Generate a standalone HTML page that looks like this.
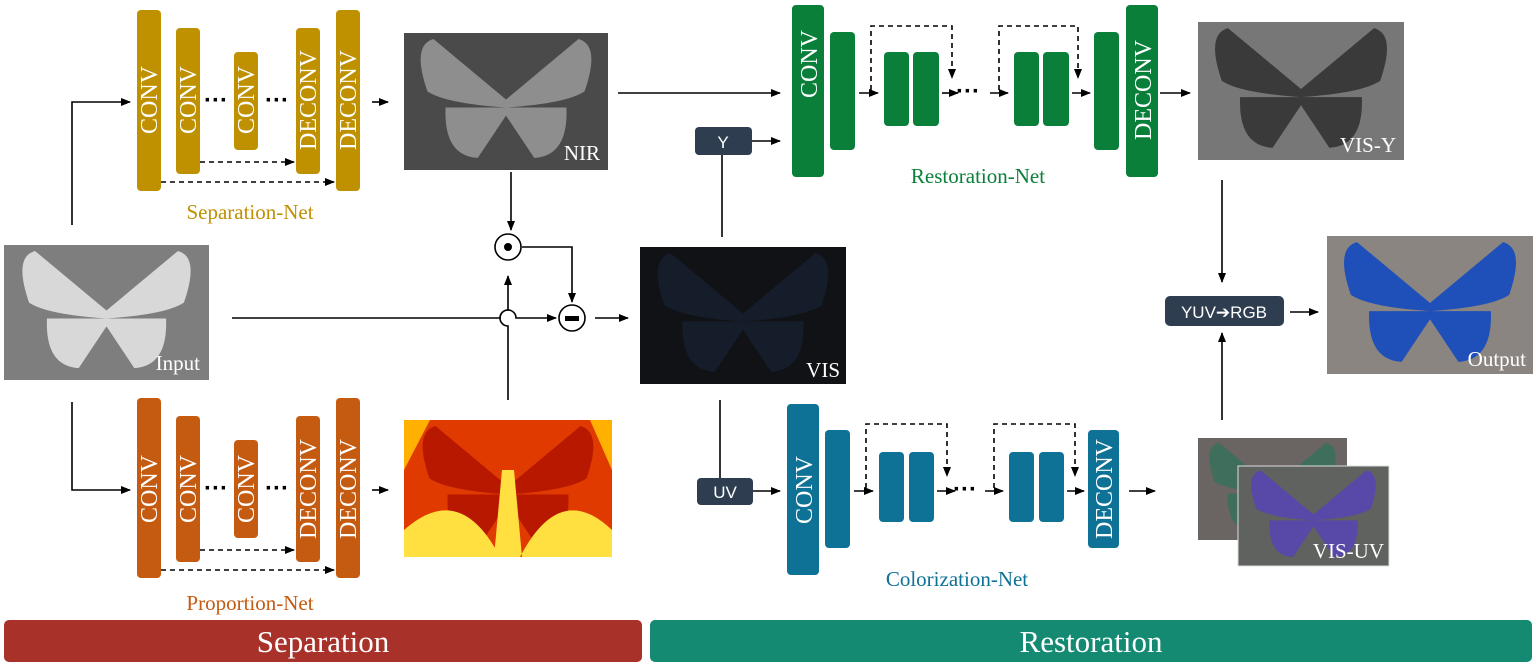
<!DOCTYPE html>
<html><head><meta charset="utf-8"><style>
html,body{margin:0;padding:0;background:#fff;}
svg{display:block}
.t{font-family:"Liberation Serif",serif;fill:#fff;font-size:24px}
.lbl{font-family:"Liberation Serif",serif;font-size:21px}
.sans{font-family:"Liberation Sans",sans-serif;fill:#fff;font-size:17px}
</style></head><body>
<svg width="1536" height="666" viewBox="0 0 1536 666" xmlns="http://www.w3.org/2000/svg">
<defs>
<marker id="a" markerWidth="10" markerHeight="8" refX="9" refY="4" orient="auto" markerUnits="userSpaceOnUse"><path d="M0,0 L10,4 L0,8 Z" fill="#000"/></marker>
<symbol id="bf" viewBox="0 0 200 136">
<path d="M100,66 L28,6 Q6,12 22,58 Q40,70 100,74 Z M100,66 L172,6 Q194,12 178,58 Q160,70 100,74 Z M100,74 L40,74 Q38,122 72,124 L100,82 Z M100,74 L160,74 Q162,122 128,124 L100,82 Z"/>
</symbol>
</defs>

<!-- Separation-Net -->
<g fill="#BF9000">
<rect x="137" y="10" width="24" height="181" rx="4"/>
<rect x="176" y="28" width="24" height="146" rx="4"/>
<rect x="234" y="52" width="24" height="98" rx="4"/>
<rect x="296" y="28" width="24" height="146" rx="4"/>
<rect x="336" y="10" width="24" height="181" rx="4"/>
</g>
<g class="t">
<text transform="translate(157,100) rotate(-90)" text-anchor="middle">CONV</text>
<text transform="translate(196,100) rotate(-90)" text-anchor="middle">CONV</text>
<text transform="translate(254,100) rotate(-90)" text-anchor="middle">CONV</text>
<text transform="translate(316,100) rotate(-90)" text-anchor="middle">DECONV</text>
<text transform="translate(356,100) rotate(-90)" text-anchor="middle">DECONV</text>
</g>
<text x="216" y="108" font-size="24" font-weight="bold" text-anchor="middle" font-family="Liberation Sans">···</text>
<text x="277" y="108" font-size="24" font-weight="bold" text-anchor="middle" font-family="Liberation Sans">···</text>
<text x="250" y="219" class="lbl" fill="#BF9000" text-anchor="middle">Separation-Net</text>

<!-- Proportion-Net -->
<g fill="#C55A11">
<rect x="137" y="398" width="24" height="180" rx="4"/>
<rect x="176" y="416" width="24" height="146" rx="4"/>
<rect x="234" y="440" width="24" height="98" rx="4"/>
<rect x="296" y="416" width="24" height="146" rx="4"/>
<rect x="336" y="398" width="24" height="180" rx="4"/>
</g>
<g class="t">
<text transform="translate(157,489) rotate(-90)" text-anchor="middle">CONV</text>
<text transform="translate(196,489) rotate(-90)" text-anchor="middle">CONV</text>
<text transform="translate(254,489) rotate(-90)" text-anchor="middle">CONV</text>
<text transform="translate(316,489) rotate(-90)" text-anchor="middle">DECONV</text>
<text transform="translate(356,489) rotate(-90)" text-anchor="middle">DECONV</text>
</g>
<text x="216" y="496" font-size="24" font-weight="bold" text-anchor="middle" font-family="Liberation Sans">···</text>
<text x="277" y="496" font-size="24" font-weight="bold" text-anchor="middle" font-family="Liberation Sans">···</text>
<text x="250" y="610" class="lbl" fill="#C55A11" text-anchor="middle">Proportion-Net</text>

<g stroke="#000" stroke-width="1.6" fill="none">
<path d="M72,225 V102 H130" marker-end="url(#a)"/>
<path d="M72,402 V490 H130" marker-end="url(#a)"/>
<path d="M372,102 H388" marker-end="url(#a)"/>
<path d="M372,490 H388" marker-end="url(#a)"/>
<g stroke-dasharray="5,4">
<path d="M200,162 H294" marker-end="url(#a)"/>
<path d="M161,182 H334" marker-end="url(#a)"/>
<path d="M200,550 H294" marker-end="url(#a)"/>
<path d="M161,570 H334" marker-end="url(#a)"/>
</g>
<path d="M511,172 V230" marker-end="url(#a)"/>
<path d="M232,318 H500 A8,8 0 0 1 516,318 H556" marker-end="url(#a)"/>
<path d="M508,400 V326 A8,8 0 0 1 508,310 V276" marker-end="url(#a)"/>
<path d="M522,247 H572 V302" marker-end="url(#a)"/>
<path d="M595,318 H628" marker-end="url(#a)"/>
<circle cx="508" cy="247" r="13"/>
<circle cx="572" cy="318" r="13"/>
<path d="M618,93 H780" marker-end="url(#a)"/>
<path d="M722,155 V237"/>
<path d="M752,141 H780" marker-end="url(#a)"/>
<path d="M720,400 V478"/>
<path d="M753,491 H780" marker-end="url(#a)"/>
</g>
<circle cx="508" cy="247" r="4" fill="#000"/>
<rect x="565" y="316" width="14" height="5" fill="#000"/>

<!-- images -->
<rect x="4" y="245" width="205" height="135" fill="#7e7e7e"/>
<svg x="4" y="245" width="205" height="135"><use href="#bf" fill="#d8d8d8"/></svg>
<text x="200" y="370" class="lbl" fill="#fff" text-anchor="end">Input</text>

<rect x="404" y="33" width="204" height="137" fill="#4a4a4a"/>
<svg x="404" y="33" width="204" height="137"><use href="#bf" fill="#8e8e8e"/></svg>
<text x="600" y="160" class="lbl" fill="#fff" text-anchor="end">NIR</text>

<rect x="404" y="420" width="208" height="137" fill="#e03a00"/>
<svg x="404" y="420" width="208" height="137"><use href="#bf" fill="#b81800"/></svg>
<path d="M404,420 L430,420 L404,470 Z M612,420 L590,420 L612,470Z" fill="#ffb000"/>
<path d="M404,530 Q460,480 500,557 L404,557 Z M612,530 Q560,480 520,557 L612,557 Z M502,470 L514,470 L522,557 L494,557Z" fill="#ffe040"/>

<rect x="640" y="247" width="206" height="137" fill="#101216"/>
<svg x="640" y="247" width="206" height="137"><use href="#bf" fill="#151c2a"/></svg>
<text x="840" y="377" class="lbl" fill="#fff" text-anchor="end">VIS</text>

<rect x="1198" y="22" width="206" height="138" fill="#777"/>
<svg x="1198" y="22" width="206" height="138"><use href="#bf" fill="#3a3a3a"/></svg>
<text x="1396" y="152" class="lbl" fill="#fff" text-anchor="end">VIS-Y</text>

<rect x="1327" y="236" width="206" height="138" fill="#8a8580"/>
<svg x="1327" y="236" width="206" height="138"><use href="#bf" fill="#1f4fb8"/></svg>
<text x="1526" y="366" class="lbl" fill="#fff" text-anchor="end">Output</text>

<rect x="1198" y="438" width="149" height="102" fill="#6a6462"/>
<svg x="1198" y="438" width="149" height="102"><use href="#bf" fill="#3f6e5c"/></svg>
<rect x="1238" y="466" width="151" height="100" fill="#5f625e" stroke="#ddd" stroke-width="1"/>
<svg x="1238" y="466" width="151" height="100"><use href="#bf" fill="#5848a8"/></svg>
<text x="1384" y="558" class="lbl" fill="#fff" text-anchor="end">VIS-UV</text>

<!-- Y / UV boxes -->
<rect x="695" y="127" width="57" height="28" rx="4" fill="#2E3E50"/>
<text x="723" y="148" class="sans" text-anchor="middle">Y</text>
<rect x="697" y="478" width="56" height="27" rx="4" fill="#2E3E50"/>
<text x="725" y="498" class="sans" text-anchor="middle">UV</text>

<!-- Restoration-Net -->
<g fill="#0A7F3A">
<rect x="792" y="5" width="32" height="172" rx="4"/>
<rect x="830" y="32" width="25" height="118" rx="4"/>
<rect x="884" y="52" width="25" height="74" rx="4"/>
<rect x="913" y="52" width="26" height="74" rx="4"/>
<rect x="1014" y="52" width="25" height="74" rx="4"/>
<rect x="1043" y="52" width="26" height="74" rx="4"/>
<rect x="1094" y="32" width="25" height="118" rx="4"/>
<rect x="1126" y="5" width="32" height="172" rx="4"/>
</g>
<text transform="translate(817,64) rotate(-90)" class="t" text-anchor="middle">CONV</text>
<text transform="translate(1151,90) rotate(-90)" class="t" text-anchor="middle">DECONV</text>
<text x="978" y="183" class="lbl" fill="#0A7F3A" text-anchor="middle">Restoration-Net</text>
<text x="968" y="99" font-size="24" font-weight="bold" text-anchor="middle" font-family="Liberation Sans">···</text>

<!-- Colorization-Net -->
<g fill="#0E7196">
<rect x="787" y="404" width="32" height="171" rx="4"/>
<rect x="825" y="430" width="25" height="118" rx="4"/>
<rect x="879" y="452" width="25" height="70" rx="4"/>
<rect x="909" y="452" width="25" height="70" rx="4"/>
<rect x="1009" y="452" width="25" height="70" rx="4"/>
<rect x="1039" y="452" width="25" height="70" rx="4"/>
<rect x="1088" y="430" width="31" height="118" rx="4"/>
</g>
<text transform="translate(812,490) rotate(-90)" class="t" text-anchor="middle">CONV</text>
<text transform="translate(1112,489) rotate(-90)" class="t" text-anchor="middle">DECONV</text>
<text x="957" y="586" class="lbl" fill="#0E7196" text-anchor="middle">Colorization-Net</text>
<text x="965" y="497" font-size="24" font-weight="bold" text-anchor="middle" font-family="Liberation Sans">···</text>

<g stroke="#000" stroke-width="1.6" fill="none">
<path d="M859,93 H878" marker-end="url(#a)"/>
<path d="M942,93 H958" marker-end="url(#a)"/>
<path d="M990,93 H1008" marker-end="url(#a)"/>
<path d="M1072,93 H1090" marker-end="url(#a)"/>
<path d="M1160,93 H1190" marker-end="url(#a)"/>
<path d="M854,491 H873" marker-end="url(#a)"/>
<path d="M937,491 H955" marker-end="url(#a)"/>
<path d="M985,491 H1003" marker-end="url(#a)"/>
<path d="M1067,491 H1084" marker-end="url(#a)"/>
<path d="M1129,491 H1155" marker-end="url(#a)"/>
<g stroke-dasharray="5,4">
<path d="M871,90 V26 H952 V78" marker-end="url(#a)"/>
<path d="M999,90 V26 H1078 V78" marker-end="url(#a)"/>
<path d="M866,488 V424 H947 V476" marker-end="url(#a)"/>
<path d="M994,488 V424 H1075 V476" marker-end="url(#a)"/>
</g>
<path d="M1222,180 V282" marker-end="url(#a)"/>
<path d="M1222,420 V333" marker-end="url(#a)"/>
<path d="M1290,312 H1318" marker-end="url(#a)"/>
</g>
<rect x="1165" y="296" width="119" height="30" rx="5" fill="#2E3E50"/>
<text x="1224" y="318" class="sans" text-anchor="middle">YUV➔RGB</text>

<!-- bottom bars -->
<rect x="4" y="620" width="638" height="42" rx="5" fill="#A8312A"/>
<text x="323" y="652" font-family="Liberation Serif,serif" font-size="31" fill="#fff" text-anchor="middle">Separation</text>
<rect x="650" y="620" width="882" height="42" rx="5" fill="#148A72"/>
<text x="1091" y="652" font-family="Liberation Serif,serif" font-size="31" fill="#fff" text-anchor="middle">Restoration</text>
</svg>
</body></html>
